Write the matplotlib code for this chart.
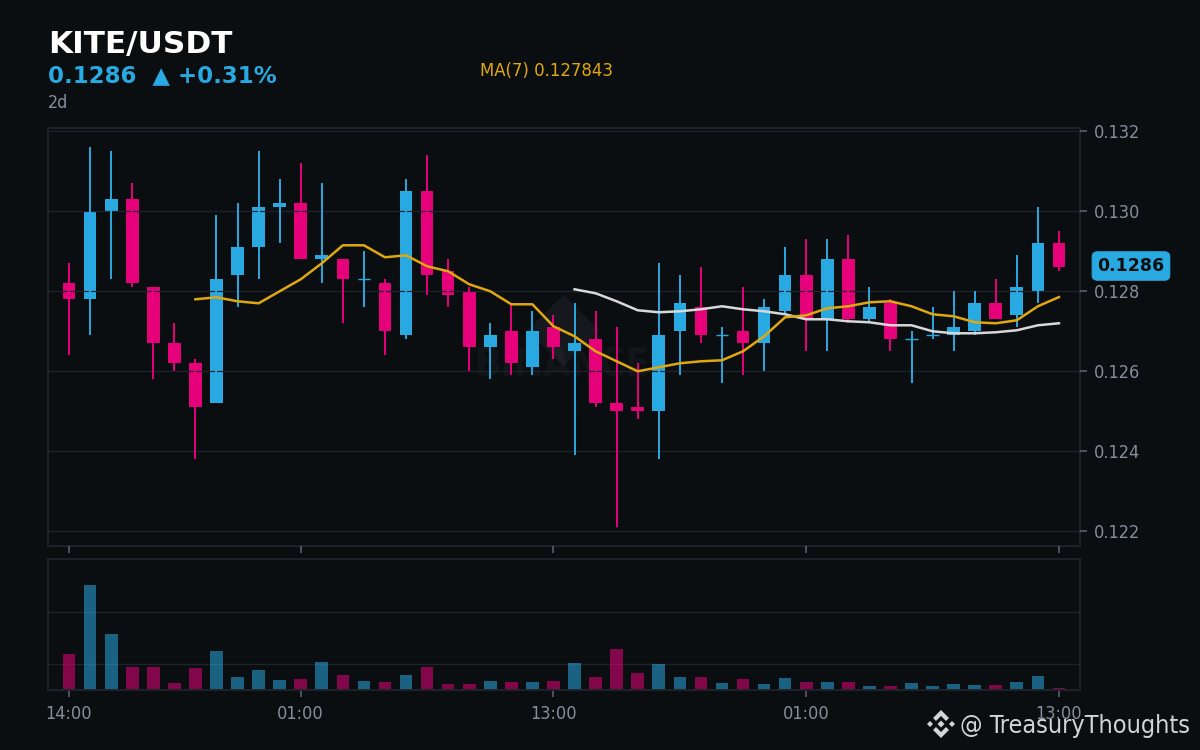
import matplotlib
matplotlib.use("Agg")
import matplotlib.pyplot as plt
from matplotlib.transforms import blended_transform_factory
from matplotlib.patches import Polygon

# ---------- data ----------
opens = [.1282,.1278,.1300,.1303,.1281,.1267,.1262,.1252,.1284,.1291,.1301,.1302,.1288,.1288,.1283,.1282,
         .1269,.1305,.1285,.1280,.1266,.1270,.1261,.1271,.1265,.1268,.1252,.1251,.1250,.1270,.1276,.1269,
         .1270,.1267,.1275,.1284,.1273,.1288,.1273,.1277,.1268,.1269,.1269,.1270,.1277,.1274,.1280,.1292]
closes = [.1278,.1300,.1303,.1282,.1267,.1262,.1251,.1283,.1291,.1301,.1302,.1288,.1289,.1283,.1283,.1270,
          .1305,.1284,.1279,.1266,.1269,.1262,.1270,.1266,.1267,.1252,.1250,.1250,.1269,.1277,.1269,.1269,
          .1267,.1276,.1284,.1273,.1288,.1273,.1276,.1268,.1268,.1269,.1271,.1277,.1273,.1281,.1292,.1286]
highs = [.1287,.1316,.1315,.1307,.1281,.1272,.1263,.1299,.1302,.1315,.1308,.1312,.1307,.1288,.1290,.1283,
         .1308,.1314,.1288,.1281,.1272,.1277,.1275,.1274,.1277,.1275,.1271,.1262,.1287,.1284,.1286,.1271,
         .1281,.1278,.1291,.1293,.1293,.1294,.1281,.1278,.1270,.1276,.1280,.1280,.1283,.1289,.1301,.1295]
lows = [.1264,.1269,.1283,.1281,.1258,.1260,.1238,.1252,.1276,.1283,.1292,.1288,.1282,.1272,.1276,.1264,
        .1268,.1279,.1276,.1260,.1258,.1259,.1259,.1263,.1239,.1251,.1221,.1248,.1238,.1259,.1267,.1257,
        .1259,.1260,.1274,.1265,.1265,.1272,.1272,.1265,.1257,.1268,.1265,.1269,.1273,.1271,.1277,.1285]
volumes = [685,2025,1074,433,433,142,414,744,258,375,200,219,530,297,181,161,297,433,122,122,181,161,161,181,
           511,258,783,317,491,258,258,142,219,122,239,161,161,161,83,83,142,83,122,103,103,161,278,45]
ma7_start = 6
ma7 = [.127788,.127838,.127738,.127688,.127988,.128288,.128688,.129138,.129138,.128838,.128888,.128613,
       .128488,.128163,.127988,.127663,.127663,.127113,.126863,.126488,.126238,.125988,.126088,.126188,
       .126238,.126263,.126488,.126863,.127338,.127388,.127563,.127613,.127713,.127738,.127613,.127413,
       .127363,.127213,.127188,.127263,.127613,.127843]
ma25_start = 24
ma25 = [.128038,.127938,.127738,.127513,.127463,.127488,.127538,.127613,.127538,.127488,.127413,.127288,
        .127288,.127238,.127213,.127138,.127138,.126988,.126938,.126938,.126963,.127013,.127138,.127188]
price_ticks = [0.122,0.124,0.126,0.128,0.130,0.132]
time_ticks = [0,11,23,35,47]
time_labels = ["14:00","01:00","13:00","01:00","13:00"]
vol_grid = [500,1500]

# ---------- style ----------
BG="#0b0e11"; UP="#29a9e1"; DOWN="#e6007a"; GRID="#1e2329"; TXT="#848e9c"; TICK="#5e6673"
YEL="#e0a80f"; WHT="#d8d8d8"
COND=dict(family="DejaVu Sans",stretch="condensed")

fig = plt.figure(figsize=(12,7.5),dpi=100,facecolor=BG)
W,H=1200,750
def box(l,t,r,b): return [l/W,1-b/H,(r-l)/W,(b-t)/H]
ax = fig.add_axes(box(48,128,1080,546),facecolor=BG,zorder=1)
av = fig.add_axes(box(48,559,1080,690),facecolor=BG,zorder=2)

xs = list(range(len(opens)))
cols = [UP if c>=o else DOWN for o,c in zip(opens,closes)]
tops=[max(o,c) for o,c in zip(opens,closes)]
bots=[min(o,c) for o,c in zip(opens,closes)]
ax.bar(xs,[t-b for t,b in zip(tops,bots)],bottom=bots,width=0.6,color=cols,linewidth=0,zorder=2)
ax.vlines(xs,lows,highs,colors=cols,linewidth=1.4,zorder=3)
doji=[i for i in xs if opens[i]==closes[i]]
ax.hlines([opens[i] for i in doji],[i-0.3 for i in doji],[i+0.3 for i in doji],colors=[cols[i] for i in doji],linewidth=1.0,zorder=3)
ax.plot(range(ma7_start,ma7_start+len(ma7)),ma7,color=YEL,lw=1.8,zorder=5,solid_joinstyle="round")
ax.plot(range(ma25_start,ma25_start+len(ma25)),ma25,color=WHT,lw=1.8,zorder=4,solid_joinstyle="round")

ax.set_xlim(-1,48); ax.set_ylim(0.12162,0.13207)
ax.set_yticks(price_ticks); ax.set_yticklabels([f"{v:.3f}" for v in price_ticks])
ax.yaxis.tick_right()
ax.set_xticks(time_ticks); ax.set_xticklabels(time_labels)
ax.set_axisbelow(False)
ax.grid(True,axis="y",color=GRID,lw=0.9)
ax.tick_params(axis="y",colors=TICK,labelcolor=TXT,labelsize=13,length=5,width=1.1,pad=5)
ax.tick_params(axis="x",colors=TICK,labelcolor=TXT,labelsize=13,length=5,width=1.1,pad=6)
for s in ax.spines.values():
    s.set_color(GRID); s.set_linewidth(1.4)

# BINANCE background mark
ax.plot([0.499],[0.517],marker="D",ms=36,color="#15181c",transform=ax.transAxes,zorder=1,clip_on=False,lw=0)
ax.text(0.4985,0.432,"BINANCE",transform=ax.transAxes,ha="center",va="center",fontsize=28,
        color="#ffffff",alpha=0.03,fontweight="bold",zorder=1.1,stretch="condensed")

# current price tag
trans=blended_transform_factory(ax.transAxes,ax.transData)
ax.text(1.0494,closes[-1]+0.00002,f"{closes[-1]:.4f}",transform=trans,ha="center",va="center",fontsize=12.5,
        fontweight="bold",color=BG,clip_on=False,zorder=10,
        bbox=dict(boxstyle="round,pad=0.3,rounding_size=0.3",fc=UP,ec=UP,lw=0.8))

# volume
av.bar(xs,volumes,width=0.6,color=cols,alpha=0.55,linewidth=0,zorder=2)
av.set_xlim(-1,48); av.set_ylim(0,2515)
av.set_yticks(vol_grid); av.set_yticklabels([])
av.set_xticks(time_ticks); av.set_xticklabels(time_labels)
av.grid(True,axis="y",color=GRID,lw=0.9); av.set_axisbelow(True)
av.tick_params(axis="y",length=0)
av.tick_params(axis="x",colors=TICK,labelcolor=TXT,labelsize=13,length=5,width=1.1,pad=6)
for s in av.spines.values():
    s.set_color(GRID); s.set_linewidth(1.4)
for lab in ax.get_xticklabels()+ax.get_yticklabels()+av.get_xticklabels():
    lab.set_fontstretch("condensed")

# header
fig.text(48/W,1-53/H,"KITE/USDT",color="white",fontsize=22.4,fontweight="bold",ha="left",va="baseline")
fig.text(48/W,1-82/H,"0.1286  ▲ +0.31%",color=UP,fontsize=16.5,fontweight="bold",ha="left",va="baseline")
fig.text(48/W,1-108/H,"2d",color=TXT,fontsize=12.8,ha="left",va="baseline",**COND)
fig.text(480/W,1-76/H,"MA(7) 0.127843",color=YEL,fontsize=13.2,ha="left",va="baseline",**COND)

# attribution
LOGO="#d4d4d4"
fig.text(960/W,1-733/H,"@ TreasuryThoughts",color=LOGO,fontsize=18.1,ha="left",va="baseline",zorder=20,**COND)
cx,cy=941,724
def px(pts): return [((cx+a)/W,1-(cy+b)/H) for a,b in pts]
shapes=[[(0,-14),(8,-6),(5,-3),(0,-8),(-5,-3),(-8,-6)],
        [(0,14),(8,6),(5,3),(0,8),(-5,3),(-8,6)],
        [(-14,0),(-11,-3),(-8,0),(-11,3)],
        [(14,0),(11,-3),(8,0),(11,3)],
        [(0,-3.5),(3.5,0),(0,3.5),(-3.5,0)]]
for sh in shapes:
    fig.add_artist(Polygon(px(sh),closed=True,fc=LOGO,ec="none",transform=fig.transFigure,zorder=20))

fig.savefig("out.png",dpi=100,facecolor=BG)
